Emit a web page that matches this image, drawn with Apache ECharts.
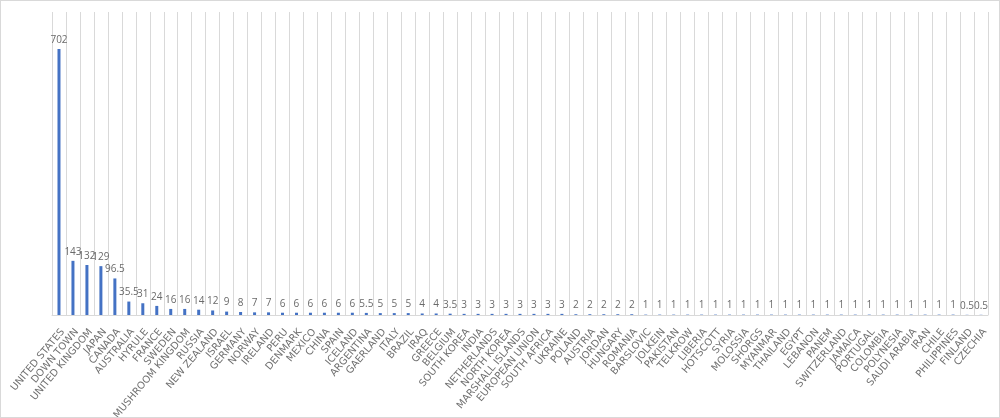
<!DOCTYPE html>
<html>
<head>
<meta charset="utf-8">
<script src="https://cdn.jsdelivr.net/npm/echarts@6/dist/echarts.min.js"></script>
<style>
html, body { margin: 0; padding: 0; background: #fff; }
#chart { width: 998px; height: 416px; border: 1px solid #d9d9d9; }
</style>
</head>
<body>
<div id="chart"></div>
<script>
var countries = ['UNITED STATES', 'DOWN TOWN', 'UNITED KINGDOM', 'JAPAN', 'CANADA', 'AUSTRALIA', 'HYRULE', 'FRANCE',
	'SWEDEN', 'MUSHROOM KINGDOM', 'RUSSIA', 'NEW ZEALAND', 'ISRAEL', 'GERMANY', 'NORWAY', 'IRELAND', 'PERU', 'DENMARK',
	'MEXICO', 'CHINA', 'SPAIN', 'ICELAND', 'ARGENTINA', 'GAERLAND', 'ITALY', 'BRAZIL', 'IRAQ', 'GREECE', 'BELGIUM',
	'SOUTH KOREA', 'INDIA', 'NETHERLANDS', 'NORTH KOREA', 'MARSHALL ISLANDS', 'EUROPEAN UNION', 'SOUTH AFRICA', 'UKRAINE',
	'POLAND', 'AUSTRIA', 'JORDAN', 'HUNGARY', 'ROMANIA', 'BARSLOVIC', 'JOLKEIN', 'PAKISTAN', 'TELKROW', 'LIBERIA',
	'HOTSCOTT', 'SYRIA', 'MOLOSSIA', 'SHORGS', 'MYANMAR', 'THAILAND', 'EGYPT', 'LEBANON', 'PANEM', 'SWITZERLAND',
	'JAMAICA', 'PORTUGAL', 'COLOMBIA', 'POLYNESIA', 'SAUDI ARABIA', 'IRAN', 'CHILE', 'PHILIPPINES', 'FINLAND', 'CZECHIA'];
var counts = [702, 143, 132, 129, 96.5, 35.5, 31, 24,
	16, 16, 14, 12, 9, 8, 7, 7, 6, 6,
	6, 6, 6, 6, 5.5, 5, 5, 5, 4, 4, 3.5,
	3, 3, 3, 3, 3, 3, 3, 3,
	2, 2, 2, 2, 2, 1, 1, 1, 1, 1,
	1, 1, 1, 1, 1, 1, 1, 1, 1, 1,
	1, 1, 1, 1, 1, 1, 1, 1, 0.5, 0.5];

var box = document.getElementById('chart');
var option = {
	animation: false,
	textStyle: { fontFamily: 'DejaVu Sans' },
	grid: { left: 51, right: 11, top: 11, bottom: 102, outerBoundsMode: 'none' },
	xAxis: {
		type: 'category',
		data: countries,
		axisLine: { lineStyle: { color: '#d9d9d9' } },
		axisTick: { show: false },
		splitLine: { show: true, lineStyle: { color: '#d9d9d9', width: 1 } },
		axisLabel: {
			interval: 0,
			rotate: 50,
			margin: 12,
			verticalAlign: 'top',
			fontSize: 10,
			color: '#707070'
		}
	},
	yAxis: {
		type: 'value',
		min: 0,
		max: 800,
		show: false,
		splitLine: { show: false }
	},
	series: [{
		type: 'bar',
		data: counts,
		barWidth: 3,
		itemStyle: { color: '#4472c4' },
		label: {
			show: true,
			position: 'top',
			distance: 4,
			fontFamily: 'Open Sans',
			fontSize: 10,
			color: '#6a6a6a'
		}
	}]
};
echarts.init(box).setOption(option);
</script>
</body>
</html>
